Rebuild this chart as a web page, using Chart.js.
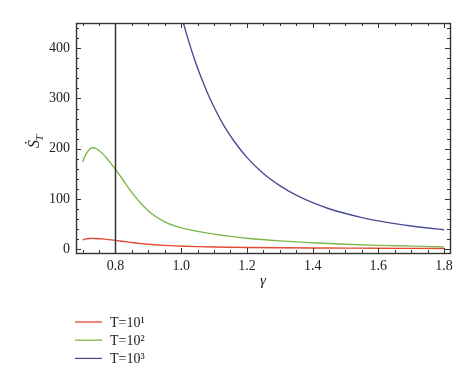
<!DOCTYPE html>
<html><head><meta charset="utf-8">
<script src="https://cdn.jsdelivr.net/npm/chart.js@4/dist/chart.umd.min.js"></script>
<style>html,body{margin:0;padding:0;background:#fff}#wrap{width:474px;height:385px;position:relative}</style>
</head><body><div id="wrap"><canvas id="c" width="474" height="385"></canvas></div>
<script>
// ---- data ----
const gammaLow = [0.70,0.71,0.72,0.73,0.74,0.76,0.78,0.80,0.82,0.84,0.86,0.88,0.90,0.92,0.95,0.98,1.01,1.05,1.10,1.15,1.20,1.30,1.40,1.50,1.60,1.70,1.80];
const sT1 = [19,21,21.8,22,21.8,21,19.5,18,16.3,14.6,13,11.6,10.4,9.4,8.2,7.2,6.4,5.6,4.9,4.4,4,3.4,3,2.7,2.4,2.2,2];
const sT2 = [174,189,198,202,201,191,176,159,141,122,105,90,77,66.5,55,47,41.5,36,30.5,26,22.3,17,13.3,10.3,8.2,6.6,5.2];
const gammaHigh = [1.00,1.02,1.04,1.06,1.08,1.10,1.13,1.16,1.20,1.25,1.30,1.35,1.40,1.45,1.50,1.55,1.60,1.65,1.70,1.75,1.80];
const sT3 = [466,420,379,343,311,283,246,216,183,151,127,108,93,81,71.4,63.4,56.8,51.4,46.7,42.7,39.2];
const seriesLabels = ['T=10\u00B9','T=10\u00B2','T=10\u00B3'];
const xTicks = [0.8,1.0,1.2,1.4,1.6,1.8];
const yTicks = [0,100,200,300,400];
const xMinor = [0.70,0.75,0.80,0.85,0.90,0.95,1.00,1.05,1.10,1.15,1.20,1.25,1.30,1.35,1.40,1.45,1.50,1.55,1.60,1.65,1.70,1.75,1.80];
const yMinor = [0,20,40,60,80,100,120,140,160,180,200,220,240,260,280,300,320,340,360,380,400,420,440];
const markerGamma = 0.8;
const xRange = [0.68,1.818];
const yRange = [-7,450];
// ---------------
const colors = ['#e34a33','#7cb84a','#4a4d96'];
const pts = (xs,ys)=>xs.map((x,i)=>({x:x,y:ys[i]}));
const serif = "'Liberation Serif','DejaVu Serif',serif";

const framePlugin = {
  id:'frame',
  afterDatasetsDraw(chart){
    const ctx=chart.ctx, a=chart.chartArea, xs=chart.scales.x, ys=chart.scales.y;
    ctx.save();
    const mx = Math.round(xs.getPixelForValue(markerGamma))+0.5;
    ctx.strokeStyle='#333'; ctx.lineWidth=1.5;
    ctx.beginPath(); ctx.moveTo(mx,a.top); ctx.lineTo(mx,a.bottom); ctx.stroke();
    ctx.strokeStyle='#333'; ctx.lineWidth=1.4;
    ctx.strokeRect(a.left+0.5,a.top+0.5,a.right-a.left,a.bottom-a.top);
    ctx.lineWidth=1;
    ctx.beginPath();
    xMinor.forEach(v=>{
      const p=Math.round(xs.getPixelForValue(v))+0.5;
      const major = xTicks.some(t=>Math.abs(t-v)<1e-6);
      const L = major?5:3;
      ctx.moveTo(p,a.bottom); ctx.lineTo(p,a.bottom-L);
      ctx.moveTo(p,a.top); ctx.lineTo(p,a.top+L);
    });
    yMinor.forEach(v=>{
      const p=Math.round(ys.getPixelForValue(v))+0.5;
      const major = yTicks.includes(v);
      const L = major?5:3;
      ctx.moveTo(a.left,p); ctx.lineTo(a.left+L,p);
      ctx.moveTo(a.right,p); ctx.lineTo(a.right-L,p);
    });
    ctx.stroke();
    ctx.fillStyle='#222';
    ctx.font="italic 15px "+serif;
    ctx.textAlign='center'; ctx.textBaseline='middle';
    ctx.fillText('\u03B3',(a.left+a.right)/2,a.bottom+28);
    ctx.translate(35,140); ctx.rotate(-Math.PI/2);
    ctx.textAlign='left';
    ctx.font="italic 16px "+serif;
    const w=ctx.measureText('\u1E60').width;
    ctx.fillText('\u1E60',-8,0);
    ctx.font="italic 11px "+serif;
    ctx.fillText('T',-8+w-1,5);
    ctx.restore();
    ctx.save();
    chart.data.datasets.forEach((d,i)=>{
      const y=322+i*18.2;
      ctx.strokeStyle=d.borderColor; ctx.lineWidth=1.3;
      ctx.beginPath(); ctx.moveTo(75,y); ctx.lineTo(102,y); ctx.stroke();
      ctx.fillStyle='#222'; ctx.font="14px "+serif; ctx.textBaseline='middle'; ctx.textAlign='left';
      ctx.fillText(d.label,110,y+1);
    });
    ctx.restore();
  }
};

new Chart(document.getElementById('c'),{
  type:'line',
  data:{datasets:[
    {label:seriesLabels[0],data:pts(gammaLow,sT1),borderColor:colors[0]},
    {label:seriesLabels[1],data:pts(gammaLow,sT2),borderColor:colors[1]},
    {label:seriesLabels[2],data:pts(gammaHigh,sT3),borderColor:colors[2]}
  ]},
  options:{
    responsive:false,animation:false,
    layout:{padding:{left:0,top:23,right:24,bottom:92}},
    elements:{point:{radius:0},line:{borderWidth:1.4,cubicInterpolationMode:'monotone',fill:false}},
    plugins:{legend:{display:false},tooltip:{enabled:false}},
    scales:{
      x:{type:'linear',min:xRange[0],max:xRange[1],
         afterBuildTicks:s=>{s.ticks=xTicks.map(v=>({value:v}));},
         afterFit:s=>{s.height=40;},
         grid:{display:false,drawTicks:false},border:{display:false},
         ticks:{padding:5,color:'#222',font:{family:serif,size:14},callback:v=>v.toFixed(1),maxRotation:0}},
      y:{type:'linear',min:yRange[0],max:yRange[1],
         afterBuildTicks:s=>{s.ticks=yTicks.map(v=>({value:v}));},
         afterFit:s=>{s.width=76;},
         grid:{display:false,drawTicks:false},border:{display:false},
         ticks:{padding:6,color:'#222',font:{family:serif,size:14}}}
    }
  },
  plugins:[framePlugin]
});
</script></body></html>
